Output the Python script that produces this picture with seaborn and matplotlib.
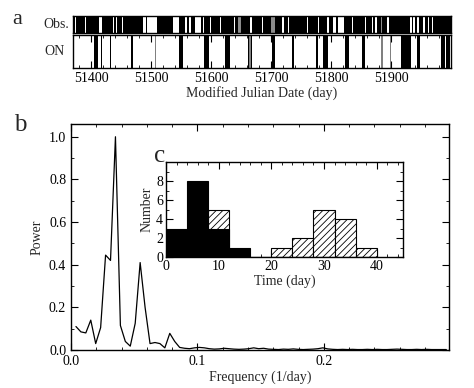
import numpy as np
import pandas as pd
import matplotlib
matplotlib.use("Agg")
import matplotlib.pyplot as plt
from matplotlib.ticker import MultipleLocator
import seaborn as sns

# ---- panel a: observation / ON windows (MJD intervals) ----
obs_gaps = [(51373, 51375), (51390, 51392), (51398, 51399), (51403, 51404),
            (51414, 51418), (51436, 51438), (51442, 51444), (51451, 51453),
            (51487, 51492), (51494, 51510), (51536, 51546), (51556, 51560),
            (51563, 51566), (51573, 51583), (51586, 51588), (51599, 51600),
            (51615, 51617), (51638, 51640), (51665, 51668), (51685, 51687),
            (51700, 51702), (51718, 51722), (51728, 51730), (51760, 51762),
            (51778, 51780), (51793, 51797), (51803, 51809), (51812, 51822),
            (51835, 51837), (51856, 51858), (51868, 51870), (51873, 51876),
            (51893, 51896), (51932, 51935), (51937, 51940), (51944, 51946),
            (51953, 51957), (51962, 51963), (51968, 51970)]
obs_gray = [(51645, 51650), (51700, 51706), (51884, 51885)]
on_bands = [(51405, 51412), (51416, 51418), (51432, 51434), (51467, 51470),
            (51546, 51554), (51589, 51596), (51623, 51632), (51662, 51668),
            (51701, 51707), (51735, 51738), (51775, 51778), (51786, 51795),
            (51823, 51830), (51851, 51857), (51916, 51933), (51943, 51948),
            (51984, 51990), (51992, 51998)]
on_gray = [(51507, 51509), (51884, 51887), (51664, 51666), (51898, 51900)]
mjd_ticks = [51400, 51500, 51600, 51700, 51800, 51900]

# ---- panel b: power spectrum ----
power = [0.110, 0.085, 0.080, 0.140, 0.030, 0.105, 0.445, 0.420, 1.000, 0.115,
         0.040, 0.018, 0.125, 0.410, 0.200, 0.030, 0.035, 0.030, 0.010, 0.078,
         0.040, 0.012, 0.008, 0.006, 0.010, 0.012, 0.010, 0.006, 0.004, 0.005,
         0.008, 0.006, 0.004, 0.003, 0.004, 0.006, 0.010, 0.006, 0.008, 0.004,
         0.003, 0.002, 0.004, 0.003, 0.005, 0.003, 0.002, 0.003, 0.004, 0.006,
         0.010, 0.005, 0.003, 0.002, 0.003, 0.002, 0.003, 0.002, 0.002, 0.003,
         0.002, 0.003, 0.002, 0.002, 0.003, 0.004, 0.003, 0.002, 0.002, 0.003,
         0.002, 0.003, 0.002, 0.002, 0.002, 0.002]
freq = np.arange(1, len(power) + 1) / 256.0

# ---- panel c: histogram of durations (4-day bins) ----
bin_edges = [0, 4, 8, 12, 16, 20, 24, 28, 32, 36, 40]
on_centers = [2, 6, 10, 14]
on_counts = [3, 8, 3, 1]
off_centers = [10, 22, 26, 30, 34, 38]
off_counts = [5, 1, 2, 5, 4, 1]

sns.set_style("ticks")
plt.rcParams["font.family"] = ["Liberation Serif", "DejaVu Serif"]
plt.rcParams.update({
    "xtick.direction": "in", "ytick.direction": "in",
    "xtick.top": True, "ytick.right": True,
    "xtick.major.size": 5, "ytick.major.size": 5,
    "xtick.minor.size": 2.5, "ytick.minor.size": 2.5,
    "axes.linewidth": 1.0, "hatch.linewidth": 0.6,
    "font.size": 10, "axes.edgecolor": "black",
    "xtick.color": "black", "ytick.color": "black",
})

fig = plt.figure(figsize=(4.74, 3.88), dpi=100)

ax_obs = fig.add_axes([0.154, 0.915, 0.7975, 0.044])
ax_on = fig.add_axes([0.154, 0.825, 0.7975, 0.085])

ax_obs.set_facecolor("black")
ax_obs.broken_barh([(a, b - a) for a, b in obs_gaps], (0, 1), color="white", lw=0)
ax_obs.broken_barh([(a, b - a) for a, b in obs_gray], (0, 1), color="0.55", lw=0)
ax_on.broken_barh([(a, b - a) for a, b in on_bands], (0, 1), color="black", lw=0)
ax_on.broken_barh([(a, b - a) for a, b in on_gray], (0, 1), color="0.5", lw=0)

for ax in (ax_obs, ax_on):
    ax.set_xlim(51370, 52000)
    ax.set_ylim(0, 1)
    ax.set_yticks([])
    ax.xaxis.set_minor_locator(MultipleLocator(20))
    ax.set_xticks(mjd_ticks)
ax_obs.tick_params(axis="x", which="both", labelbottom=False)
ax_obs.set_ylabel("Obs.", rotation=0, ha="right", va="center", labelpad=3)
ax_on.set_ylabel("ON", rotation=0, ha="right", va="center", labelpad=6)
ax_on.set_xlabel("Modified Julian Date (day)", labelpad=1)
ax_on.tick_params(axis="x", labelsize=10, pad=3)

# panel b
ax_b = fig.add_axes([0.1498, 0.098, 0.7975, 0.5825])
sns.lineplot(x=freq, y=power, color="black", lw=0.9, ax=ax_b)
ax_b.set_xlim(0, 0.299)
ax_b.set_ylim(0, 1.06)
ax_b.set_xticks([0.0, 0.1, 0.2])
ax_b.set_yticks([0.0, 0.2, 0.4, 0.6, 0.8, 1.0])
ax_b.set_xticklabels(["0.0", "0.1", "0.2"])
ax_b.set_yticklabels(["0.0", "0.2", "0.4", "0.6", "0.8", "1.0"])
ax_b.xaxis.set_minor_locator(MultipleLocator(0.02))
ax_b.yaxis.set_minor_locator(MultipleLocator(0.1))
ax_b.set_xlabel("Frequency (1/day)", labelpad=2)
ax_b.set_ylabel("Power", labelpad=4)

# panel c inset
ax_c = fig.add_axes([0.3502, 0.3376, 0.50, 0.2448])
sns.histplot(x=off_centers, weights=off_counts, bins=bin_edges, ax=ax_c,
             color="white", edgecolor="black", hatch="/////", linewidth=0.8,
             alpha=1)
sns.histplot(x=on_centers, weights=on_counts, bins=bin_edges, ax=ax_c,
             color="black", edgecolor="black", linewidth=0.8, alpha=1)
ax_c.set_xlim(0, 45)
ax_c.set_ylim(0, 10)
ax_c.set_xticks([0, 10, 20, 30, 40])
ax_c.set_yticks([0, 2, 4, 6, 8])
ax_c.xaxis.set_minor_locator(MultipleLocator(2))
ax_c.yaxis.set_minor_locator(MultipleLocator(1))
ax_c.tick_params(labelsize=10, pad=2)
ax_c.set_xlabel("Time (day)", labelpad=1)
ax_c.set_ylabel("Number", labelpad=2)

fig.text(0.025, 0.975, "a", fontsize=16, va="top")
fig.text(0.03, 0.705, "b", fontsize=18, va="top")
fig.text(0.325, 0.625, "c", fontsize=18, va="top")

fig.savefig("out.png", dpi=100)
